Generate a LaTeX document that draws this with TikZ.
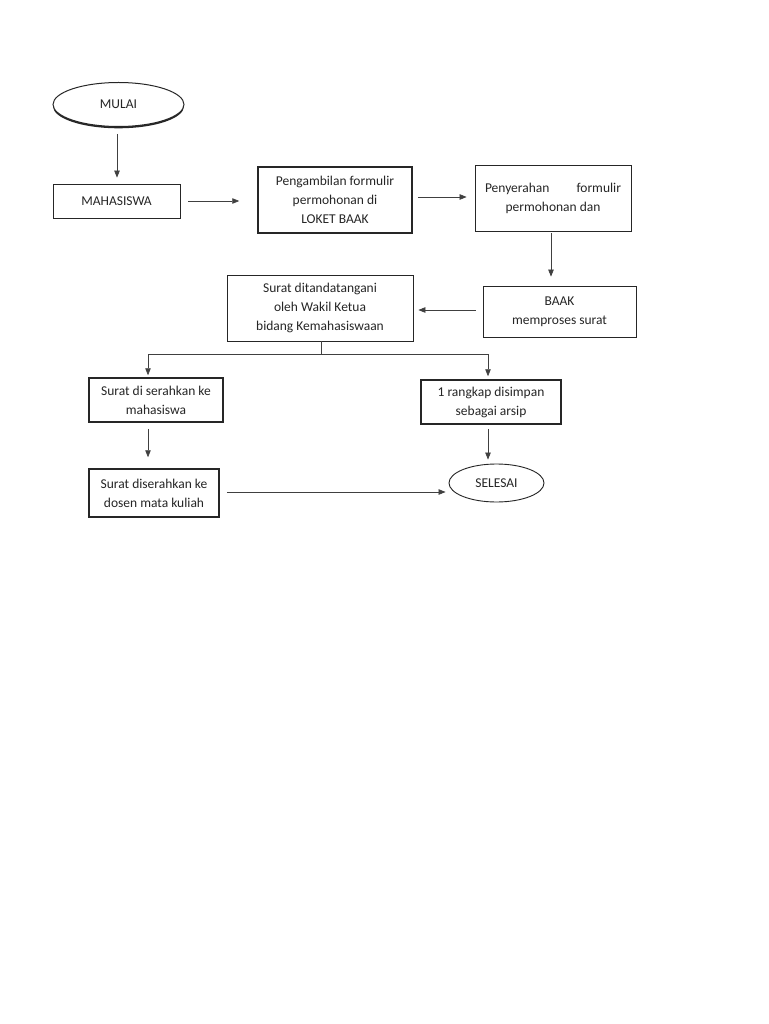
\documentclass[tikz,border=0pt]{standalone}
\usepackage{fontspec}
\setmainfont{Carlito}
\usetikzlibrary{shapes.geometric,arrows.meta,shadows}
\begin{document}
\begin{tikzpicture}[x=1pt,y=-1pt,
  every node/.style={font=\fontsize{13.5}{19}\selectfont, text=black!85},
  box/.style={draw=black!85, line width=0.8pt, inner sep=0pt, align=center},
  tbox/.style={box, line width=1.5pt},
  oval/.style={draw=black!85, ellipse, inner sep=0pt, line width=0.9pt},
  arr/.style={draw=black!75, line width=0.7pt, -{Triangle[length=7pt,width=5.5pt]}},
  ln/.style={draw=black!75, line width=0.7pt}]
\fill[white] (0,0) rectangle (768,1024);
\useasboundingbox (0,0) rectangle (768,1024);

\node[oval, minimum width=131pt, minimum height=44pt, line width=1pt,
      drop shadow={shadow xshift=0pt, shadow yshift=-1.8pt, opacity=1, fill=black!85}, fill=white]
      (mulai) at (118.5,104.5) {MULAI};
\node[box, minimum width=127pt, minimum height=34pt] (mhs) at (116.5,201) {MAHASISWA};
\node[tbox, minimum width=154pt, minimum height=66pt] (peng) at (335,200)
  {Pengambilan formulir\\permohonan di\\LOKET BAAK};
\node[box, minimum width=156pt, minimum height=66pt] (peny) at (553,198)
  {\makebox[136pt][s]{Penyerahan\hfill formulir}\\permohonan dan};
\node[box, minimum width=153pt, minimum height=51pt] (baak) at (559.5,311.5)
  {BAAK\\memproses surat};
\node[box, minimum width=186pt, minimum height=66pt] (surat) at (320,308)
  {Surat ditandatangani\\oleh Wakil Ketua\\bidang Kemahasiswaan};
\node[tbox, minimum width=134pt, minimum height=44pt] (serah) at (156,400)
  {Surat di serahkan ke\\mahasiswa};
\node[tbox, minimum width=140pt, minimum height=44pt] (rangkap) at (491,402)
  {1 rangkap disimpan\\sebagai arsip};
\node[tbox, minimum width=130pt, minimum height=48pt] (dosen) at (154,493)
  {Surat diserahkan ke\\dosen mata kuliah};
\node[oval, minimum width=95pt, minimum height=38pt] (selesai) at (496.5,483) {SELESAI};

\coordinate (split) at (321,354);
\coordinate (bl) at (148,354);
\coordinate (br) at (488,354);

\draw[arr, shorten <=7pt, shorten >=6pt] ([xshift=-1.5pt]mulai.south) -- ([xshift=-1.5pt]mulai.south |- mhs.north);
\draw[arr, shorten <=8pt, shorten >=18pt] (mhs.east) -- (mhs.east -| peng.west);
\draw[arr, shorten <=5pt, shorten >=8pt] ([yshift=3pt]peng.east) -- ([yshift=3pt]peng.east -| peny.west);
\draw[arr, shorten <=2pt, shorten >=9pt] ([xshift=-2pt]peny.south) -- ([xshift=-2pt]peny.south |- baak.north);
\draw[arr, shorten <=7pt, shorten >=5pt] ([yshift=1.5pt]baak.west) -- ([yshift=1.5pt]baak.west -| surat.east);
\draw[ln] (surat.south -| split) -- (split);
\draw[ln] (bl) -- (br);
\draw[arr, shorten >=2pt] (bl) -- (bl |- serah.north);
\draw[arr, shorten >=3pt] (br) -- (br |- rangkap.north);
\draw[arr, shorten <=6pt, shorten >=11pt] (bl |- serah.south) -- (bl |- dosen.north);
\draw[arr, shorten <=4pt, shorten >=4pt] (br |- rangkap.south) -- (br |- selesai.north);
\draw[arr, shorten <=7pt, shorten >=3pt] ([yshift=1pt]dosen.east) -- ([yshift=1pt]dosen.east -| selesai.west);
\end{tikzpicture}
\end{document}
